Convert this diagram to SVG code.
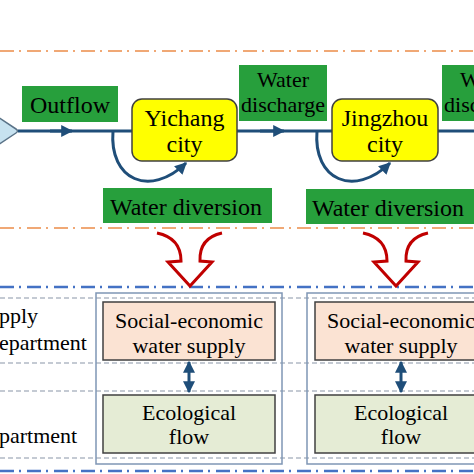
<svg xmlns="http://www.w3.org/2000/svg" width="474" height="474" viewBox="0 0 474 474">
<defs>
<style>
.t{font-family:"Liberation Serif","Times New Roman",serif;fill:#000;text-anchor:middle}
.s24{font-size:24px}
.s22{font-size:22px}
.lbl{fill:#279F3C}
.city{fill:#FFFF00;stroke:#404040;stroke-width:1.5}
.pink{fill:#FBE3D3;stroke:#404040;stroke-width:1.5}
.eco{fill:#E5ECD5;stroke:#404040;stroke-width:1.5}
.outer{fill:none;stroke:#7F96B5;stroke-width:1.5}
.gdash{stroke:#8A96A8;stroke-width:1.2;stroke-dasharray:5 3;fill:none}
.odash{stroke:#F0A875;stroke-width:2;stroke-dasharray:14 5 2 6;fill:none}
.bdash{stroke:#4472C4;stroke-width:2.5;stroke-dasharray:14 5 2 6;fill:none}
.flow{stroke:#1F4E79;stroke-width:3;fill:none}
.red{stroke:#C00000;stroke-width:3;fill:#fff;stroke-linejoin:miter}
</style>
<marker id="ah" viewBox="0 0 10 10" refX="9" refY="5" markerWidth="4" markerHeight="4" orient="auto-start-reverse" markerUnits="strokeWidth">
<path d="M0,0 L10,5 L0,10 z" fill="#1F4E79"/>
</marker>
</defs>
<rect width="474" height="474" fill="#fff"/>

<g id="separators">
<path class="odash" d="M0,51 H474"/>
<path class="odash" d="M0,228 H474"/>
<path class="bdash" d="M0,287 H474"/>
<path class="bdash" d="M0,471 H474"/>
<path class="gdash" d="M0,298 H474 M0,363 H474 M0,391 H474 M0,458 H474"/>
</g>

<g id="source">
<path d="M-22,104 L16,129 Q19,131 16,133 L-22,158 Z" fill="#C7E2F0" stroke="#5A7388" stroke-width="1.5"/>
</g>

<g id="connectors">
<path class="flow" d="M18,131 H132 M237,131 H332 M438,131 H474"/>
<path class="flow" d="M50,131 H72" marker-end="url(#ah)"/>
<path class="flow" d="M260,131 H284" marker-end="url(#ah)"/>
<path class="flow" d="M113,131 C109,180 150,198 186,163" marker-end="url(#ah)"/>
<path class="flow" d="M317,131 C313,180 354,198 390,163" marker-end="url(#ah)"/>
<path class="flow" d="M189,362 V392" marker-start="url(#ah)" marker-end="url(#ah)"/>
<path class="flow" d="M401,362 V392" marker-start="url(#ah)" marker-end="url(#ah)"/>
<path class="red" d="M157,233 Q181,238 181,261 L168,262 L190,286 L212,262 L200,261 Q199,238 222,233"/>
<path class="red" d="M363,233 Q387,238 387,261 L374,262 L396,286 L418,262 L406,261 Q405,238 428,233"/>
</g>

<g id="outflow">
<rect class="lbl" x="22" y="86" width="96" height="36"/>
<text class="t s24" x="70" y="113">Outflow</text>
</g>

<g id="yichang">
<rect class="city" x="132" y="99" width="105" height="62" rx="10"/>
<text class="t s24" x="184.5" y="126">Yichang</text>
<text class="t s24" x="184.5" y="152">city</text>
</g>

<g id="discharge1">
<rect class="lbl" x="239" y="65" width="88" height="56"/>
<text class="t s22" x="283" y="87">Water</text>
<text class="t s22" x="283" y="112">discharge</text>
</g>

<g id="jingzhou">
<rect class="city" x="332" y="99" width="106" height="62" rx="10"/>
<text class="t s24" x="385" y="126">Jingzhou</text>
<text class="t s24" x="385" y="152">city</text>
</g>

<g id="discharge2">
<rect class="lbl" x="442" y="65" width="88" height="56"/>
<text class="t s22" x="486" y="87">Water</text>
<text class="t s22" x="486" y="112">discharge</text>
</g>

<g id="diversion1">
<rect class="lbl" x="103" y="188" width="169" height="35"/>
<text class="t s24" x="186" y="215">Water diversion</text>
</g>

<g id="diversion2">
<rect class="lbl" x="306" y="189" width="168" height="35"/>
<text class="t s24" x="388" y="216">Water diversion</text>
</g>

<g id="left-labels">
<text class="t s22" x="-1" y="323" style="text-anchor:start">pply</text>
<text class="t s22" x="-1" y="350" style="text-anchor:start">epartment</text>
<text class="t s22" x="-1" y="443" style="text-anchor:start">partment</text>
</g>

<g id="column1">
<rect class="outer" x="96" y="293" width="186" height="171"/>
<rect class="pink" x="103" y="302" width="172" height="58"/>
<text class="t s22" x="189" y="328">Social-economic</text>
<text class="t s22" x="189" y="353">water supply</text>
<rect class="eco" x="103" y="395" width="172" height="58"/>
<text class="t s22" x="189" y="420">Ecological</text>
<text class="t s22" x="189" y="444">flow</text>
</g>

<g id="column2">
<rect class="outer" x="307" y="293" width="186" height="171"/>
<rect class="pink" x="315" y="302" width="172" height="58"/>
<text class="t s22" x="401" y="328">Social-economic</text>
<text class="t s22" x="401" y="353">water supply</text>
<rect class="eco" x="315" y="395" width="172" height="58"/>
<text class="t s22" x="401" y="420">Ecological</text>
<text class="t s22" x="401" y="444">flow</text>
</g>
</svg>
